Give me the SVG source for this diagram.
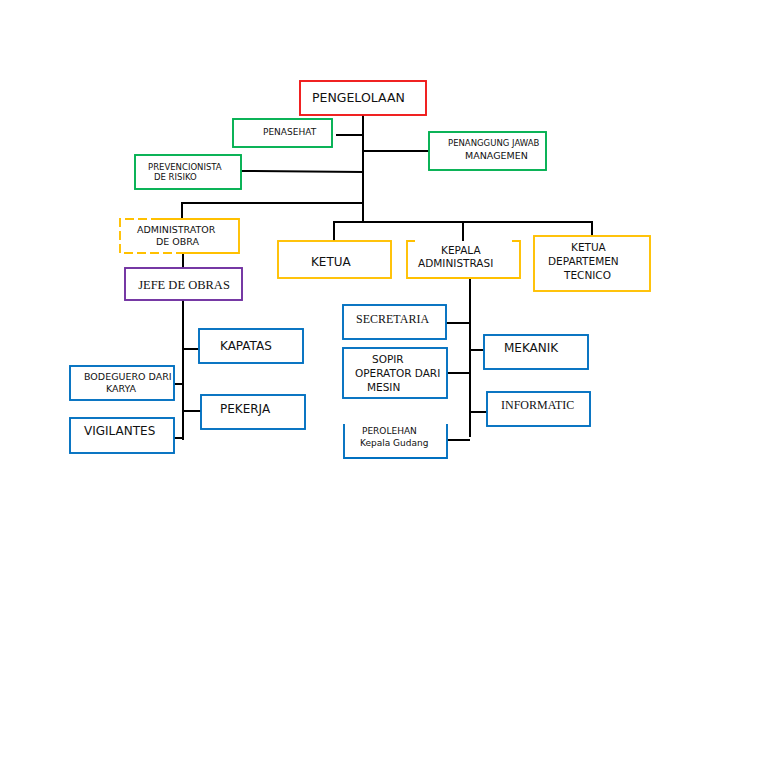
<svg xmlns="http://www.w3.org/2000/svg" width="768" height="761" viewBox="0 0 768 761">
<style>
.b{fill:#fff;stroke-width:1.9}
.r{stroke:#f01818}.g{stroke:#00b050}.y{stroke:#ffc000}.p{stroke:#7030a0}.bl{stroke:#0070c0}
text{font-family:"DejaVu Sans","Liberation Sans",sans-serif;fill:#111}
.s{font-family:"Liberation Serif","DejaVu Serif",serif}
.c line{stroke:#000;stroke-width:2}
</style>
<rect width="768" height="761" fill="#fff"/>
<g class="c">
<line x1="363" y1="115" x2="363" y2="223"/>
<line x1="336" y1="135" x2="363" y2="135"/>
<line x1="363" y1="151" x2="429" y2="151"/>
<line x1="241" y1="171" x2="363" y2="172"/>
<line x1="182" y1="203" x2="363" y2="203"/>
<line x1="182" y1="202" x2="182" y2="219"/>
<line x1="334" y1="222" x2="592" y2="222"/>
<line x1="334" y1="221" x2="334" y2="241"/>
<line x1="463" y1="221" x2="463" y2="241"/>
<line x1="592" y1="221" x2="592" y2="236"/>
<line x1="183" y1="253" x2="183" y2="268"/>
<line x1="183" y1="300" x2="183" y2="440"/>
<line x1="183" y1="349" x2="199" y2="349"/>
<line x1="174" y1="384" x2="183" y2="384"/>
<line x1="183" y1="411" x2="201" y2="411"/>
<line x1="174" y1="438" x2="183" y2="438"/>
<line x1="470" y1="278" x2="470" y2="437"/>
<line x1="446" y1="323" x2="470" y2="323"/>
<line x1="470" y1="350" x2="484" y2="350"/>
<line x1="447" y1="373" x2="470" y2="373"/>
<line x1="470" y1="412" x2="487" y2="412"/>
<line x1="447" y1="440" x2="470" y2="440"/>
</g>
<g id="pengelolaan"><rect class="b r" x="300" y="81" width="126" height="34"/><text x="312" y="102" font-size="12.5">PENGELOLAAN</text></g>
<g id="penasehat"><rect class="b g" x="233" y="119" width="99" height="28"/><text x="263" y="135" font-size="9">PENASEHAT</text></g>
<g id="penanggung"><rect class="b g" x="429" y="132" width="117" height="38"/><text x="448" y="146" font-size="8.5">PENANGGUNG JAWAB</text><text x="465" y="159" font-size="9.5">MANAGEMEN</text></g>
<g id="prevencionista"><rect class="b g" x="135" y="155" width="106" height="34"/><text x="148" y="170" font-size="8.5">PREVENCIONISTA</text><text x="154" y="180" font-size="8.5">DE RISIKO</text></g>
<g id="administrator"><path d="M160 219H239V253H185" fill="#fff" stroke="#ffc000" stroke-width="1.9"/><path d="M160 219H120V253H185" fill="none" stroke="#ffc000" stroke-width="1.9" stroke-dasharray="9 4"/><text x="137" y="233" font-size="9.5">ADMINISTRATOR</text><text x="156" y="245" font-size="9.5">DE OBRA</text></g>
<g id="jefe"><rect class="b p" x="125" y="268" width="117" height="32"/><text class="s" x="184" y="289" font-size="12.5" text-anchor="middle">JEFE DE OBRAS</text></g>
<g id="ketua"><rect class="b y" x="278" y="241" width="113" height="37"/><text x="311" y="266" font-size="12">KETUA</text></g>
<g id="kepala"><path d="M415 241H407V278H520V241H512" fill="#fff" stroke="#ffc000" stroke-width="1.9"/><text x="441" y="254" font-size="10.5">KEPALA</text><text x="418" y="267" font-size="10.5">ADMINISTRASI</text></g>
<g id="ketuadept"><rect class="b y" x="534" y="236" width="116" height="55"/><text x="571" y="251" font-size="10.5">KETUA</text><text x="548" y="265" font-size="10.5">DEPARTEMEN</text><text x="564" y="279" font-size="10.5">TECNICO</text></g>
<g id="kapatas"><rect class="b bl" x="199" y="329" width="104" height="34"/><text x="220" y="350" font-size="12">KAPATAS</text></g>
<g id="bodeguero"><rect class="b bl" x="70" y="366" width="104" height="34"/><text x="84" y="380" font-size="9.5">BODEGUERO DARI</text><text x="106" y="392" font-size="9.5">KARYA</text></g>
<g id="pekerja"><rect class="b bl" x="201" y="395" width="104" height="34"/><text x="220" y="413" font-size="12">PEKERJA</text></g>
<g id="vigilantes"><rect class="b bl" x="70" y="418" width="104" height="35"/><text x="84" y="435" font-size="12">VIGILANTES</text></g>
<g id="secretaria"><rect class="b bl" x="343" y="305" width="103" height="34"/><text class="s" x="356" y="323" font-size="12">SECRETARIA</text></g>
<g id="mekanik"><rect class="b bl" x="484" y="335" width="104" height="34"/><text x="504" y="352" font-size="12">MEKANIK</text></g>
<g id="sopir"><rect class="b bl" x="343" y="348" width="104" height="50"/><text x="372" y="363" font-size="10.5">SOPIR</text><text x="355" y="377" font-size="10.5">OPERATOR DARI</text><text x="367" y="391" font-size="10.5">MESIN</text></g>
<g id="informatic"><rect class="b bl" x="487" y="392" width="103" height="34"/><text class="s" x="501" y="409" font-size="12">INFORMATIC</text></g>
<g id="perolehan"><path d="M344 424V458H447V424" fill="#fff" stroke="#0070c0" stroke-width="1.9"/><text x="362" y="434" font-size="9">PEROLEHAN</text><text x="360" y="446" font-size="9">Kepala Gudang</text></g>
</svg>
